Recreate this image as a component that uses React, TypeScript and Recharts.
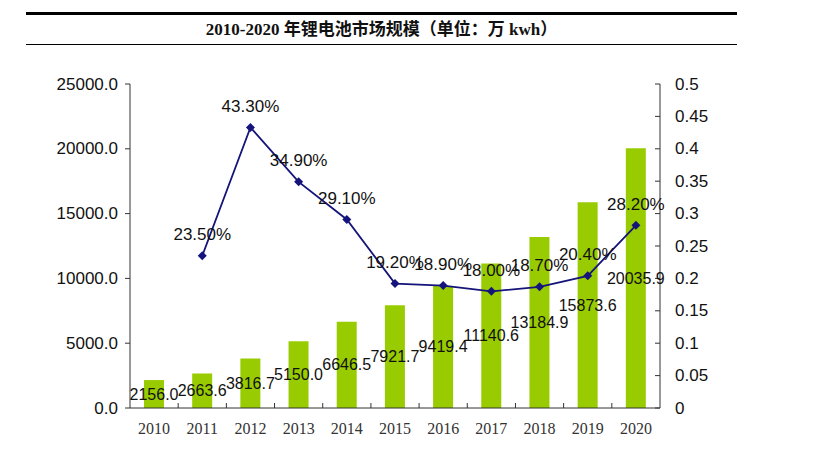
import { ComposedChart, Bar, Line, XAxis, YAxis, LabelList } from "recharts";

const years = ["2010", "2011", "2012", "2013", "2014", "2015", "2016", "2017", "2018", "2019", "2020"];
const marketSize = [2156.0, 2663.6, 3816.7, 5150.0, 6646.5, 7921.7, 9419.4, 11140.6, 13184.9, 15873.6, 20035.9];
const growthRate = [null, 0.235, 0.433, 0.349, 0.291, 0.192, 0.189, 0.18, 0.187, 0.204, 0.282];
const leftTicks = [0, 5000, 10000, 15000, 20000, 25000];
const rightTicks = [0, 0.05, 0.1, 0.15, 0.2, 0.25, 0.3, 0.35, 0.4, 0.45, 0.5];

const data = years.map((year, i) => ({ year, size: marketSize[i], rate: growthRate[i] }));

const W = 820;
const H = 467;
const LEFT_W = 130;
const RIGHT_W = 160;
const X_H = 30;
const BOTTOM = 29;
const AXIS_Y = H - BOTTOM - X_H;
const BAND = (W - LEFT_W - RIGHT_W) / years.length;
const SANS = '"Liberation Sans", Arial, sans-serif';
const SERIF = '"Liberation Serif", "Times New Roman", serif';

function XTick(props: any) {
  const { x, payload, index } = props;
  return (
    <g>
      {index < years.length - 1 && (
        <line x1={x + BAND / 2} x2={x + BAND / 2} y1={AXIS_Y} y2={AXIS_Y - 5} stroke="#333" />
      )}
      <text x={x} y={AXIS_Y + 20} textAnchor="middle" dominantBaseline="central" fontFamily={SERIF} fontSize={16} fill="#333">
        {payload.value}
      </text>
    </g>
  );
}

function LeftTick(props: any) {
  const { x, y, payload } = props;
  return (
    <g>
      <line x1={x - 5} x2={x} y1={y} y2={y} stroke="#333" />
      <text x={x - 12} y={y} textAnchor="end" dominantBaseline="central" fontFamily={SANS} fontSize={17} fill="#111">
        {payload.value.toFixed(1)}
      </text>
    </g>
  );
}

function RightTick(props: any) {
  const { x, y, payload } = props;
  return (
    <g>
      <line x1={x - 5} x2={x} y1={y} y2={y} stroke="#333" />
      <text x={x + 15} y={y} textAnchor="start" dominantBaseline="central" fontFamily={SANS} fontSize={17} fill="#111">
        {String(Number(payload.value.toFixed(2)))}
      </text>
    </g>
  );
}

function BarLabel(props: any) {
  const { x, y, width, height, value } = props;
  return (
    <text x={x + width / 2} y={y + height / 2} textAnchor="middle" dominantBaseline="central" fontFamily={SANS} fontSize={16} fill="#111">
      {Number(value).toFixed(1)}
    </text>
  );
}

function RateLabel(props: any) {
  const { x, y, value } = props;
  if (value == null) return null;
  return (
    <text x={x} y={y - 21} textAnchor="middle" dominantBaseline="central" fontFamily={SANS} fontSize={17} fill="#111">
      {(value * 100).toFixed(2) + "%"}
    </text>
  );
}

function Diamond(props: any) {
  const { cx, cy, payload } = props;
  if (payload.rate == null) return null;
  const r = 4.5;
  return <path d={`M${cx},${cy - r}L${cx + r},${cy}L${cx},${cy + r}L${cx - r},${cy}Z`} fill="#14147a" />;
}

export default function App() {
  return (
    <div style={{ position: "absolute", left: 0, top: 0, width: W, height: H, background: "#fff" }}>
      {/* title with rules */}
      <div style={{ position: "absolute", left: 26, top: 12, width: 711, height: 3, background: "#000" }} />
      <div
        style={{
          position: "absolute",
          left: 26,
          top: 18,
          width: 711,
          textAlign: "center",
          fontFamily: '"Liberation Serif", "Noto Sans CJK SC", serif',
          fontWeight: "bold",
          fontSize: 17,
          lineHeight: "24px",
          color: "#111",
        }}
      >
        2010-2020 年锂电池市场规模（单位：万 kwh）
      </div>
      <div style={{ position: "absolute", left: 26, top: 44, width: 711, height: 1, background: "#000" }} />

      <div style={{ position: "absolute", left: 0, top: 0 }}>
        <ComposedChart width={W} height={H} data={data} margin={{ top: 84, right: 0, bottom: BOTTOM, left: 0 }} barCategoryGap={0}>
          <XAxis
            dataKey="year"
            height={X_H}
            tickLine={false}
            tickSize={0}
            tickMargin={0}
            axisLine={{ stroke: "#333" }}
            tick={<XTick />}
            interval={0}
          />
          <YAxis
            yAxisId="left"
            width={LEFT_W}
            domain={[0, 25000]}
            ticks={leftTicks}
            tickLine={false}
            tickSize={0}
            tickMargin={0}
            axisLine={{ stroke: "#333" }}
            tick={<LeftTick />}
            interval={0}
          />
          <YAxis
            yAxisId="right"
            orientation="right"
            width={RIGHT_W}
            domain={[0, 0.5]}
            ticks={rightTicks}
            tickLine={false}
            tickSize={0}
            tickMargin={0}
            axisLine={{ stroke: "#333" }}
            tick={<RightTick />}
            interval={0}
          />
          <Bar yAxisId="left" dataKey="size" fill="#99cc00" barSize={20} isAnimationActive={false}>
            <LabelList dataKey="size" content={<BarLabel />} />
          </Bar>
          <Line
            yAxisId="right"
            dataKey="rate"
            stroke="#14147a"
            strokeWidth={1.8}
            dot={<Diamond />}
            activeDot={false}
            isAnimationActive={false}
          >
            <LabelList dataKey="rate" content={<RateLabel />} />
          </Line>
        </ComposedChart>
      </div>
    </div>
  );
}
